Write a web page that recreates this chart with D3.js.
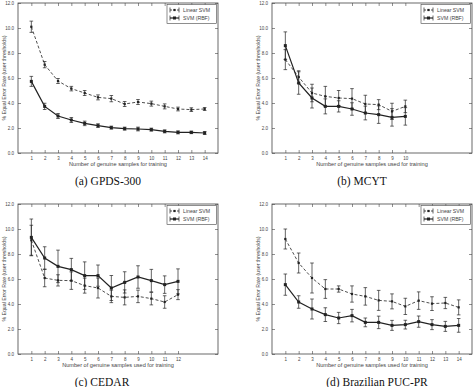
<!DOCTYPE html>
<html>
<head>
<meta charset="utf-8">
<script src="https://cdn.jsdelivr.net/npm/d3@7"></script>
<style>
  body { margin: 0; background: #fff; }
  svg { display: block; }
</style>
</head>
<body>
<svg id="chart" width="474" height="387"></svg>
<script>
// values (equal error rate %, with error bar half-widths)
var gpdsLinear    = [10.1, 7.07, 5.76, 5.15, 4.8, 4.45, 4.35, 3.92, 4.08, 3.95, 3.73, 3.52, 3.47, 3.52];
var gpdsLinearErr = [0.45, 0.25, 0.2, 0.18, 0.2, 0.2, 0.25, 0.2, 0.2, 0.2, 0.2, 0.15, 0.15, 0.12];
var gpdsRbf       = [5.73, 3.73, 2.96, 2.64, 2.37, 2.19, 2.03, 1.95, 1.92, 1.87, 1.73, 1.65, 1.65, 1.6];
var gpdsRbfErr    = [0.4, 0.25, 0.2, 0.2, 0.18, 0.15, 0.12, 0.12, 0.15, 0.12, 0.12, 0.12, 0.1, 0.12];

var mcytLinear    = [7.47, 6.08, 4.8, 4.53, 4.4, 4.35, 3.92, 3.87, 3.33, 3.73];
var mcytLinearErr = [0.8, 0.5, 0.7, 0.8, 0.6, 0.8, 0.7, 0.4, 0.65, 0.5];
var mcytRbf       = [8.59, 5.6, 4.4, 3.73, 3.73, 3.52, 3.2, 3.07, 2.85, 2.93];
var mcytRbfErr    = [1.1, 0.9, 0.8, 0.6, 0.45, 0.5, 0.55, 0.7, 0.7, 0.7];

var cedarLinear    = [9.1, 6.08, 5.89, 5.87, 5.47, 5.28, 4.61, 4.53, 4.61, 4.43, 4.16, 4.75];
var cedarLinearErr = [1.2, 0.7, 0.45, 0.7, 0.6, 0.8, 0.5, 0.6, 0.5, 0.5, 0.5, 0.4];
var cedarRbf       = [9.33, 7.68, 7.01, 6.75, 6.27, 6.27, 5.28, 5.73, 6.16, 5.87, 5.55, 5.81];
var cedarRbfErr    = [1.47, 0.9, 1.3, 0.9, 1.1, 0.85, 1.0, 0.85, 0.9, 0.9, 0.7, 1.0];

var pucLinear    = [9.2, 7.28, 6.08, 5.2, 5.2, 4.8, 4.61, 4.29, 4.21, 3.81, 4.27, 4.03, 4.08, 3.73];
var pucLinearErr = [0.8, 0.8, 1.2, 0.75, 0.25, 0.65, 0.7, 0.8, 0.6, 0.65, 0.7, 0.55, 0.45, 0.6];
var pucRbf       = [5.55, 4.16, 3.6, 3.15, 2.88, 3.07, 2.53, 2.53, 2.29, 2.35, 2.59, 2.35, 2.21, 2.29];
var pucRbfErr    = [0.85, 0.5, 0.8, 0.55, 0.45, 0.5, 0.35, 0.5, 0.4, 0.35, 0.45, 0.4, 0.4, 0.55];

var yTicks = [0, 2, 4, 6, 8, 10, 12];
var legendLabels = ["Linear SVM", "SVM (RBF)"];

var panels = [
  {x: 18, y: 3, caption: "(a) GPDS-300", xlabel: "Number of genuine samples for training",
   lin: gpdsLinear, linErr: gpdsLinearErr, rbf: gpdsRbf, rbfErr: gpdsRbfErr, capDx: -10},
  {x: 272, y: 3, caption: "(b) MCYT", xlabel: "Number of genuine samples used for training",
   lin: mcytLinear, linErr: mcytLinearErr, rbf: mcytRbf, rbfErr: mcytRbfErr, capDx: -10},
  {x: 18, y: 204, caption: "(c) CEDAR", xlabel: "Number of genuine samples used for training",
   lin: cedarLinear, linErr: cedarLinearErr, rbf: cedarRbf, rbfErr: cedarRbfErr, capDx: -16},
  {x: 272, y: 204, caption: "(d) Brazilian PUC-PR", xlabel: "Number of genuine samples used for training",
   lin: pucLinear, linErr: pucLinearErr, rbf: pucRbf, rbfErr: pucRbfErr, capDx: 5}
];

var W = 200, H = 150;
var ink = "#222", axisCol = "#444", textCol = "#444";

var svg = d3.select("#chart");

panels.forEach(function(p) {
  var g = svg.append("g").attr("transform", "translate(" + p.x + "," + p.y + ")");
  var n = p.lin.length;
  var xs = d3.scaleLinear().domain([0, 15]).range([0, W]);
  var ys = d3.scaleLinear().domain([0, 12]).range([H, 0]);
  var xTicks = d3.range(1, n + 1);

  // inward ticks on all sides
  g.append("g").attr("transform", "translate(0," + H + ")")
    .call(d3.axisBottom(xs).tickValues(xTicks).tickSizeInner(-3).tickSizeOuter(0).tickPadding(4));
  g.append("g")
    .call(d3.axisTop(xs).tickValues(xTicks).tickSizeInner(-3).tickSizeOuter(0).tickFormat(""));
  g.append("g")
    .call(d3.axisLeft(ys).tickValues(yTicks).tickSizeInner(-3).tickSizeOuter(0).tickPadding(4).tickFormat(d3.format(".1f")));
  g.append("g").attr("transform", "translate(" + W + ",0)")
    .call(d3.axisRight(ys).tickValues(yTicks).tickSizeInner(-3).tickSizeOuter(0).tickFormat(""));

  g.selectAll(".domain").remove();
  g.selectAll(".tick line").attr("stroke", axisCol).attr("stroke-width", 0.6);
  g.selectAll(".tick text").attr("fill", textCol).style("font-family", "Liberation Sans, Arial, sans-serif").style("font-size", "4.5px");

  g.append("rect").attr("width", W).attr("height", H)
    .attr("fill", "none").attr("stroke", axisCol).attr("stroke-width", 0.8);

  // axis titles
  g.append("text").attr("x", W / 2).attr("y", H + 13)
    .attr("text-anchor", "middle").attr("fill", textCol)
    .style("font-family", "Liberation Sans, Arial, sans-serif").style("font-size", "5.6px")
    .text(p.xlabel);
  g.append("text")
    .attr("transform", "translate(-12," + (H / 2) + ") rotate(-90)")
    .attr("text-anchor", "middle").attr("fill", textCol)
    .style("font-family", "Liberation Sans, Arial, sans-serif").style("font-size", "5.2px")
    .text("% Equal Error Rate (user thresholds)");

  // caption
  g.append("text").attr("x", W / 2 + p.capDx).attr("y", H + 32)
    .attr("text-anchor", "middle").attr("fill", "#111")
    .style("font-family", "Liberation Serif, Times New Roman, serif").style("font-size", "11.5px")
    .text(p.caption);

  var series = [
    {vals: p.lin, err: p.linErr, dash: "3,2", w: 0.8, r: 1.1},
    {vals: p.rbf, err: p.rbfErr, dash: null, w: 1.2, r: 1.5}
  ];

  var line = d3.line().x(function(d, i) { return xs(i + 1); }).y(function(d) { return ys(d); });

  series.forEach(function(s) {
    var sg = g.append("g");
    sg.append("path").datum(s.vals).attr("d", line)
      .attr("fill", "none").attr("stroke", ink).attr("stroke-width", s.w)
      .attr("stroke-dasharray", s.dash);
    var eb = sg.selectAll("g.eb").data(s.vals).enter().append("g");
    eb.append("line")
      .attr("x1", function(d, i) { return xs(i + 1); }).attr("x2", function(d, i) { return xs(i + 1); })
      .attr("y1", function(d, i) { return ys(d - s.err[i]); }).attr("y2", function(d, i) { return ys(d + s.err[i]); })
      .attr("stroke", ink).attr("stroke-width", 0.7);
    [-1, 1].forEach(function(sign) {
      eb.append("line")
        .attr("x1", function(d, i) { return xs(i + 1) - 1.8; }).attr("x2", function(d, i) { return xs(i + 1) + 1.8; })
        .attr("y1", function(d, i) { return ys(d + sign * s.err[i]); }).attr("y2", function(d, i) { return ys(d + sign * s.err[i]); })
        .attr("stroke", ink).attr("stroke-width", 0.7);
    });
    eb.append("rect")
      .attr("x", function(d, i) { return xs(i + 1) - s.r; }).attr("y", function(d) { return ys(d) - s.r; })
      .attr("width", s.r * 2).attr("height", s.r * 2).attr("fill", ink);
  });

  // legend
  var lg = g.append("g").attr("transform", "translate(" + (W - 51) + ",1.5)");
  lg.append("rect").attr("width", 49.5).attr("height", 19)
    .attr("fill", "#fff").attr("stroke", axisCol).attr("stroke-width", 0.6);
  legendLabels.forEach(function(lab, i) {
    var s = series[i];
    var cy = 5.5 + i * 8;
    var item = lg.append("g").attr("transform", "translate(3," + cy + ")");
    item.append("line").attr("x1", 0).attr("x2", 9).attr("y1", 0).attr("y2", 0)
      .attr("stroke", ink).attr("stroke-width", s.w).attr("stroke-dasharray", s.dash ? "2,1.5" : null);
    [0, 9].forEach(function(cx) {
      item.append("line").attr("x1", cx).attr("x2", cx).attr("y1", -2.5).attr("y2", 2.5)
        .attr("stroke", ink).attr("stroke-width", 0.7);
    });
    item.append("rect").attr("x", 4.5 - s.r).attr("y", -s.r).attr("width", s.r * 2).attr("height", s.r * 2).attr("fill", ink);
    lg.append("text").attr("x", 16).attr("y", cy + 1.8).attr("fill", textCol)
      .style("font-family", "Liberation Sans, Arial, sans-serif").style("font-size", "5.2px")
      .text(lab);
  });
});
</script>
</body>
</html>
